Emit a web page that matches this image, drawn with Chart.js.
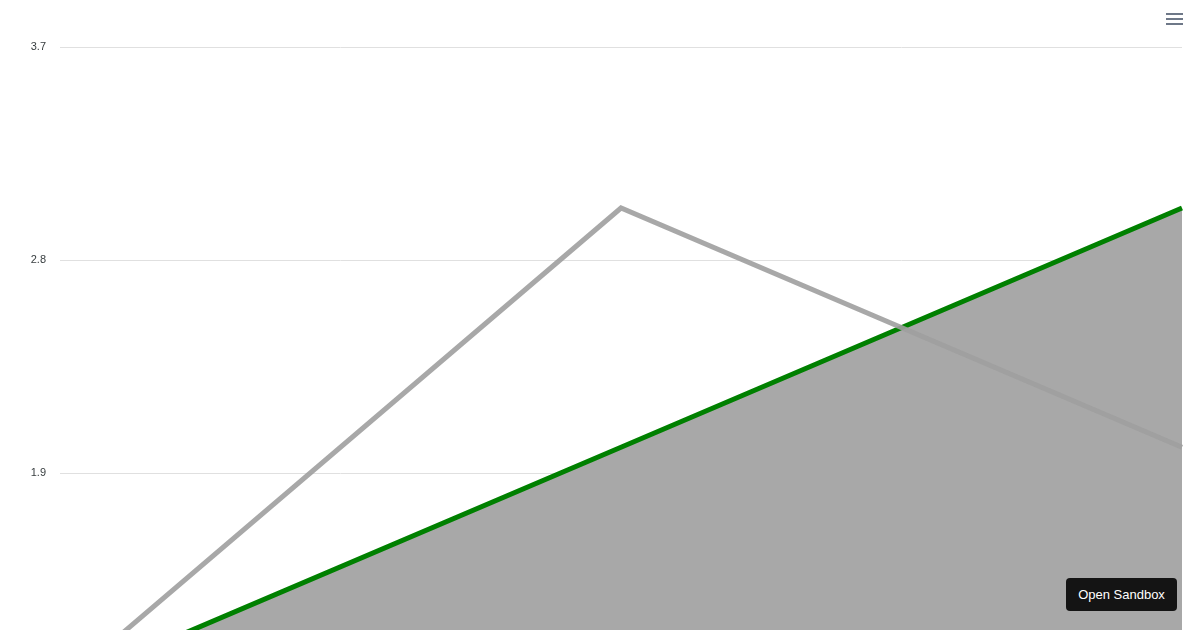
<!DOCTYPE html>
<html>
<head>
<meta charset="utf-8">
<script src="https://cdn.jsdelivr.net/npm/chart.js@4"></script>
<style>
html,body{margin:0;padding:0;background:#fff;overflow:hidden;width:1200px;height:630px}
#wrap{position:absolute;left:0;top:0;width:1200px;height:707px}
#menu{position:absolute;left:1166px;top:13px;width:17px;height:13px}
#menu span{display:block;height:2px;background:#6e7888;margin-bottom:3px}
#sandbox{position:absolute;left:1066px;top:578px;width:111px;height:33px;background:#141414;color:#fff;
border-radius:4px;font:13px "Liberation Sans",Arial,sans-serif;line-height:33px;text-align:center}
</style>
</head>
<body>
<div id="wrap"><canvas id="chart"></canvas></div>
<div id="menu"><span></span><span></span><span></span></div>
<div id="sandbox">Open Sandbox</div>
<script>

const categories = ["A","B","C"]
const greenValues = [1,2,3]
const grayValues = [1,3,2]
// tick positions as drawn, labels are rounded to one decimal
const yTicks = [1.0,1.891,2.782,3.673]

let chart=new Chart(
document.getElementById("chart"),
{
type:"line",
data:{
labels:categories,
datasets:[
{
label:"Series 2",
data:grayValues,
borderColor:"rgba(159,159,159,0.9)",
borderWidth:5,
pointRadius:0,
fill:false,
tension:0,
order:0
},
{
label:"Series 1",
data:greenValues,
borderColor:"#008000",
backgroundColor:"#a8a8a8",
borderWidth:5,
pointRadius:0,
fill:"start",
tension:0,
order:1
}
]
},
options:{
responsive:true,
maintainAspectRatio:false,
animation:false,
layout:{padding:{left:0,right:18,top:47,bottom:0}},
plugins:{legend:{display:false},tooltip:{enabled:false}},
scales:{
x:{display:false,offset:false},
y:{
min:yTicks[0],
max:yTicks[yTicks.length-1],
afterBuildTicks:(s)=>{s.ticks=yTicks.map(v=>({value:v}))},
afterFit:(s)=>{s.width=60},
border:{display:false},
grid:{color:"#e0e0e0",drawTicks:false},
ticks:{
padding:14,
color:"#373d3f",
font:{family:"Liberation Sans",size:11},
callback:(v)=>Number(v).toFixed(1)
}
}
}
}
})

</script>
</body>
</html>
